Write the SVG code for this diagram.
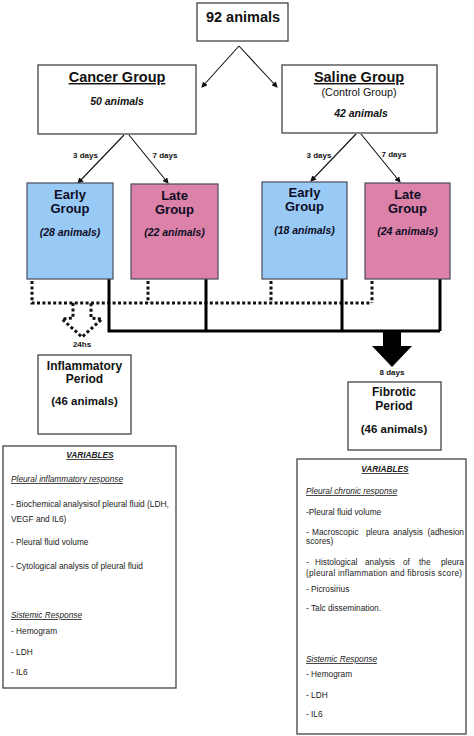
<svg xmlns="http://www.w3.org/2000/svg" width="474" height="736" viewBox="0 0 474 736">
<style>
text{font-family:"Liberation Sans",Arial,sans-serif;fill:#111;}
.box{fill:#fff;stroke:#444;stroke-width:1.3;}
.blue{fill:#99caf6;stroke:#4a4a5a;stroke-width:1.2;}
.pink{fill:#dc82a8;stroke:#4a4a5a;stroke-width:1.2;}
.c{text-anchor:middle;}
.e{text-anchor:end;}
.b{font-weight:bold;}
.bi{font-weight:bold;font-style:italic;}
.u{text-decoration:underline;}
.h1{font-size:14.5px;font-weight:bold;}
.g{font-size:13px;font-weight:bold;fill:#0d0d26;}
.gn{font-size:10.5px;font-weight:bold;font-style:italic;fill:#0d0d26;}
.lab{font-size:8px;font-weight:bold;}
.p{font-size:12px;font-weight:bold;}
.pn{font-size:11.5px;font-weight:bold;}
.v{font-size:8.3px;fill:#222;}
.thin{stroke:#111;stroke-width:1.1;fill:none;}
.dot{stroke:#111;stroke-width:3;stroke-dasharray:3 2.4;fill:none;}
.sol{stroke:#000;stroke-width:3;fill:none;}
</style>
<defs>
<marker id="ah" markerWidth="6" markerHeight="6" refX="5" refY="3" orient="auto" markerUnits="userSpaceOnUse">
<path d="M0,0 L6,3 L0,6 z" fill="#111"/>
</marker>
</defs>

<g id="connectors">
<line class="thin" x1="239" y1="46" x2="202" y2="87" marker-end="url(#ah)"/>
<line class="thin" x1="239" y1="46" x2="277" y2="87" marker-end="url(#ah)"/>
<line class="thin" x1="124" y1="135" x2="78" y2="183" marker-end="url(#ah)"/>
<line class="thin" x1="129" y1="135" x2="168" y2="183" marker-end="url(#ah)"/>
<line class="thin" x1="356" y1="134" x2="311" y2="181" marker-end="url(#ah)"/>
<line class="thin" x1="361" y1="134" x2="400" y2="182" marker-end="url(#ah)"/>
<text class="lab c" x="85.5" y="158">3 days</text>
<text class="lab c" x="165" y="158">7 days</text>
<text class="lab c" x="319" y="158">3 days</text>
<text class="lab c" x="394" y="157">7 days</text>
<path class="dot" d="M32,281 V303 H372 M148,281 V303 M271,281 V303 M372,281 V303"/>
<path class="dot" d="M73,303 V318 L62,319 L82,337 L102,319 L91,318 V303"/>
<path class="sol" d="M109,279 V331 H440 M206,279 V331 M342,279 V331 M440,278 V331"/>
<polygon points="383,331 401,331 401,346 412,346 392,367 372,346 383,346" fill="#000"/>
<text class="lab c" x="82" y="347">24hs</text>
<text class="lab c" x="392" y="375">8 days</text>
</g>

<g id="node-total">
<rect class="box" x="197" y="3" width="91" height="38"/>
<text class="c b" x="243" y="22" font-size="14.5">92 animals</text>
</g>

<g id="node-cancer">
<rect class="box" x="38" y="65" width="158" height="69"/>
<text class="h1 c u" x="117" y="82">Cancer Group</text>
<text class="bi c" x="117" y="105" font-size="10.5">50 animals</text>
</g>

<g id="node-saline">
<rect class="box" x="282" y="65" width="155" height="68"/>
<text class="h1 c u" x="359" y="82">Saline Group</text>
<text class="c" x="359" y="96" font-size="10.8">(Control Group)</text>
<text class="bi c" x="361" y="117" font-size="10.5">42 animals</text>
</g>

<g id="node-cancer-early">
<rect class="blue" x="27" y="183" width="86" height="96"/>
<text class="g c" x="70" y="199">Early</text>
<text class="g c" x="70" y="213">Group</text>
<text class="gn c" x="70" y="236">(28 animals)</text>
</g>

<g id="node-cancer-late">
<rect class="pink" x="131" y="184" width="87" height="95"/>
<text class="g c" x="174.5" y="200">Late</text>
<text class="g c" x="174.5" y="214">Group</text>
<text class="gn c" x="174.5" y="236">(22 animals)</text>
</g>

<g id="node-saline-early">
<rect class="blue" x="262" y="182" width="85" height="97"/>
<text class="g c" x="304.5" y="197">Early</text>
<text class="g c" x="304.5" y="211">Group</text>
<text class="gn c" x="304.5" y="234">(18 animals)</text>
</g>

<g id="node-saline-late">
<rect class="pink" x="365" y="183" width="85" height="96"/>
<text class="g c" x="407.5" y="199">Late</text>
<text class="g c" x="407.5" y="213">Group</text>
<text class="gn c" x="407.5" y="235">(24 animals)</text>
</g>

<g id="node-inflammatory">
<rect class="box" x="38" y="355" width="93" height="79"/>
<text class="p c" x="84.5" y="370">Inflammatory</text>
<text class="p c" x="84.5" y="383">Period</text>
<text class="pn c" x="84.5" y="405">(46 animals)</text>
</g>

<g id="node-fibrotic">
<rect class="box" x="348" y="382" width="93" height="68"/>
<text class="p c" x="394" y="396">Fibrotic</text>
<text class="p c" x="394" y="410">Period</text>
<text class="pn c" x="394" y="433">(46 animals)</text>
</g>

<g id="node-variables-inflammatory">
<rect class="box" x="3" y="446" width="173" height="242"/>
<text class="v bi u c" x="90" y="458">VARIABLES</text>
<text class="v u" x="11" y="482" font-style="italic">Pleural inflammatory response</text>
<text class="v" x="11" y="507">- Biochemical analysisof pleural fluid (LDH,</text>
<text class="v" x="11" y="522">VEGF and IL6)</text>
<text class="v" x="11" y="545">- Pleural fluid volume</text>
<text class="v" x="11" y="569">- Cytological analysis of pleural fluid</text>
<text class="v u" x="11" y="618" font-style="italic">Sistemic Response</text>
<text class="v" x="11" y="634">- Hemogram</text>
<text class="v" x="11" y="655">- LDH</text>
<text class="v" x="11" y="675">- IL6</text>
</g>

<g id="node-variables-fibrotic">
<rect class="box" x="297" y="459" width="169" height="275"/>
<text class="v bi u c" x="385" y="472">VARIABLES</text>
<text class="v u" x="306" y="494" font-style="italic">Pleural chronic response</text>
<text class="v" x="306" y="515">-Pleural fluid volume</text>
<text class="v" x="306" y="535">-</text>
<text class="v" x="312" y="535">Macroscopic</text>
<text class="v" x="366" y="535">pleura</text>
<text class="v" x="393" y="535">analysis</text>
<text class="v e" x="464" y="535">(adhesion</text>
<text class="v" x="306" y="544">scores)</text>
<text class="v" x="306" y="565">-</text>
<text class="v" x="315" y="565">Histological</text>
<text class="v" x="365" y="565">analysis</text>
<text class="v" x="403" y="565">of</text>
<text class="v" x="419" y="565">the</text>
<text class="v e" x="464" y="565">pleura</text>
<text class="v" x="306" y="576" textLength="156" lengthAdjust="spacing">(pleural inflammation and fibrosis score)</text>
<text class="v" x="306" y="592">- Picrosirius</text>
<text class="v" x="306" y="611">- Talc dissemination.</text>
<text class="v u" x="306" y="662" font-style="italic">Sistemic Response</text>
<text class="v" x="306" y="677">- Hemogram</text>
<text class="v" x="306" y="698">- LDH</text>
<text class="v" x="306" y="717">- IL6</text>
</g>
</svg>
